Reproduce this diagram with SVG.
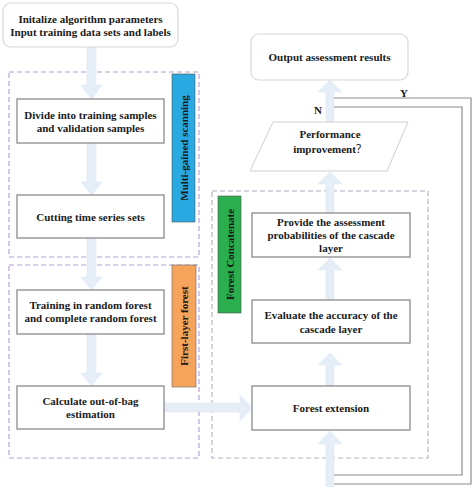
<svg xmlns="http://www.w3.org/2000/svg" width="474" height="487" viewBox="0 0 474 487">
<style>
text{font-family:"Liberation Serif","Times New Roman",serif;font-weight:bold;font-size:11px;fill:#1a1a1a;text-anchor:middle}
.box{fill:#fff;stroke:#9a9a9a;stroke-width:1.5}
.rbox{fill:#fff;stroke:#d8d8d8;stroke-width:1.2}
.dash{fill:none;stroke:#b49bd0;stroke-width:1.1;stroke-dasharray:5,3}
.dash2{fill:none;stroke:#aeabc6;stroke-width:1.1;stroke-dasharray:5,3}
.arr{fill:#e5edf7;stroke:#dfe7f2;stroke-width:0.6}
.loop{fill:none;stroke:#8c8c8c;stroke-width:1.2}
</style>
<rect width="474" height="487" fill="#fff"/>
<g id="groups">
<rect class="dash" x="9" y="72" width="190" height="185"/>
<rect class="dash" x="9" y="265" width="190" height="193"/>
<rect class="dash2" x="212" y="191" width="216" height="267"/>
</g>
<g id="label-scanning">
<rect x="172" y="74" width="23" height="148" fill="#29a9e1" stroke="#555" stroke-width="0.6"/>
<text transform="translate(184,148) rotate(-90)" y="4">Multi-gained scanning</text>
</g>
<g id="label-first">
<rect x="172" y="265" width="24" height="122" fill="#f6a35c" stroke="#666" stroke-width="0.6"/>
<text transform="translate(184,326) rotate(-90)" y="4">First-layer forest</text>
</g>
<g id="label-concat">
<rect x="218" y="196" width="23" height="117" fill="#2aae4e" stroke="#555" stroke-width="0.6"/>
<text transform="translate(229.5,254.5) rotate(-90)" y="4">Forest Concatenate</text>
</g>
<g id="connectors">
<path class="arr" d="M87,47 H96 V85 H102 L91.5,99 L81,85 H87 Z"/>
<path class="arr" d="M87,143 H96 V182 H102 L91.5,195 L81,182 H87 Z"/>
<path class="arr" d="M87,238 H96 V277 H102 L91.5,290 L81,277 H87 Z"/>
<path class="arr" d="M87,334 H96 V373 H102 L91.5,386 L81,373 H87 Z"/>
<path class="arr" d="M164,403 H240 V395 L252,408 L240,421 V412 H164 Z"/>
<path class="arr" d="M326,487 V444 H318 L330,431 L342,444 H334 V487 Z"/>
<path class="arr" d="M326,386 V365 H318 L330,353 L342,365 H334 V386 Z"/>
<path class="arr" d="M326,300 V270 H318 L330,258 L342,270 H334 V300 Z"/>
<path class="arr" d="M326,213 V184 H318 L330,172 L342,184 H334 V213 Z"/>
<path class="arr" d="M326,122 V92 H318 L330,80 L342,92 H334 V122 Z"/>
<path class="loop" d="M334,98 H471 V484 H334"/>
<path class="loop" d="M334,107 H462 V475 H334"/>
<text x="404" y="97">Y</text>
<text x="318" y="114">N</text>
</g>
<g id="n-init">
<rect class="rbox" x="3" y="3" width="175" height="44" rx="8"/>
<text x="90.5" y="23">Initalize algorithm parameters</text>
<text x="90.5" y="36">Input training data sets and labels</text>
</g>
<g id="n-divide">
<rect class="box" x="17" y="99" width="147" height="44"/>
<text x="90.5" y="119">Divide into training samples</text>
<text x="90.5" y="132">and validation samples</text>
</g>
<g id="n-cutting">
<rect class="box" x="17" y="195" width="147" height="43"/>
<text x="90.5" y="221">Cutting time series sets</text>
</g>
<g id="n-training">
<rect class="box" x="17" y="290" width="147" height="44"/>
<text x="90.5" y="309">Training in random forest</text>
<text x="90.5" y="322">and complete random forest</text>
</g>
<g id="n-calc">
<rect class="box" x="17" y="386" width="147" height="43"/>
<text x="90.5" y="405">Calculate out-of-bag</text>
<text x="90.5" y="418">estimation</text>
</g>
<g id="n-output">
<rect class="rbox" x="251" y="34" width="157" height="46" rx="8"/>
<text x="329.5" y="61">Output assessment results</text>
</g>
<g id="n-perf">
<polygon points="273,122 408,122 387,171 250,171" fill="#fff" stroke="#cfcfcf" stroke-width="1"/>
<text x="330" y="138">Performance</text>
<text x="330" y="153">improvement<tspan font-family="'Noto Sans CJK SC',sans-serif" font-weight="normal">？</tspan></text>
</g>
<g id="n-provide">
<rect class="box" x="252" y="213" width="158" height="44"/>
<text x="331" y="226">Provide the assessment</text>
<text x="331" y="239">probabilities of the cascade</text>
<text x="331" y="252">layer</text>
</g>
<g id="n-evaluate">
<rect class="box" x="252" y="300" width="158" height="43"/>
<text x="331" y="319">Evaluate the accuracy of the</text>
<text x="331" y="333">cascade layer</text>
</g>
<g id="n-ext">
<rect class="box" x="252" y="386" width="158" height="44"/>
<text x="331" y="412">Forest extension</text>
</g>
</svg>
